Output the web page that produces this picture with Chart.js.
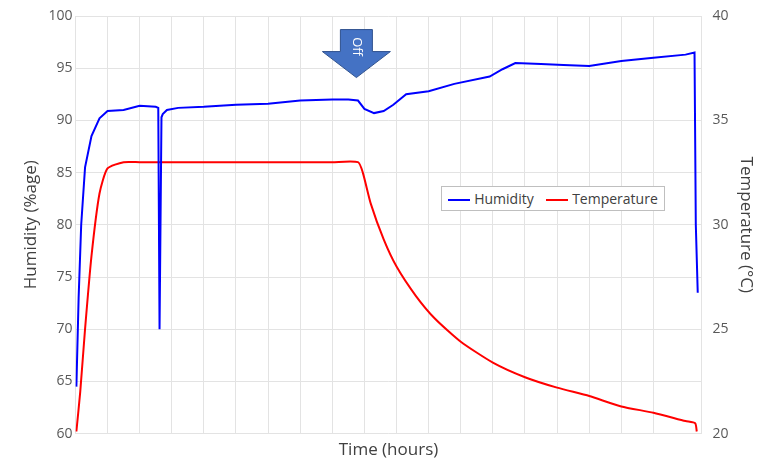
<!DOCTYPE html>
<html lang="en">
<head>
<meta charset="UTF-8">
<script src="https://cdn.jsdelivr.net/npm/chart.js"></script>
<style>
  body { margin: 0; background: #fff; }
  #wrap { position: relative; width: 768px; height: 471px; }
  #legend { position: absolute; left: 441px; top: 186px; width: 222px; height: 23px; border: 1px solid #bfbfbf; background: #fff;
            font: 14px "Open Sans", sans-serif; color: #404040; display: flex; align-items: center; justify-content: space-around; }
  #legend span i { display: inline-block; width: 22px; height: 2px; vertical-align: middle; margin-right: 4px; }
</style>
</head>
<body>
<div id="wrap">
  <canvas id="chart" width="768" height="471"></canvas>
  <div id="legend">
    <span><i style="background:#0000ff"></i>Humidity</span>
    <span><i style="background:#ff0000"></i>Temperature</span>
  </div>
</div>
<script>
// time in hours
var humTime = [0.03, 0.1, 0.18, 0.3, 0.5, 0.75, 1.0, 1.5, 2.0, 2.5, 2.58, 2.62, 2.68, 2.72, 2.85, 3.2, 4.0, 5.0, 6.0, 7.0, 8.0, 8.5, 8.8, 9.0, 9.3, 9.6, 9.9, 10.3, 11.0, 11.8, 12.9, 13.3, 13.7, 14.5, 15.2, 16.0, 17.0, 18.0, 19.0, 19.28, 19.32, 19.38];
var humidity = [64.5, 73, 80, 85.5, 88.5, 90.2, 90.9, 91.0, 91.4, 91.3, 91.2, 70, 90.3, 90.6, 91.0, 91.2, 91.3, 91.5, 91.6, 91.9, 92.0, 92.0, 91.9, 91.1, 90.7, 90.9, 91.5, 92.5, 92.8, 93.5, 94.2, 94.9, 95.5, 95.4, 95.3, 95.2, 95.7, 96.0, 96.3, 96.5, 80, 73.5];
var tempTime = [0.03, 0.15, 0.3, 0.5, 0.75, 1.0, 1.5, 2.0, 4.0, 6.0, 8.0, 8.8, 8.95, 9.2, 9.6, 10.0, 10.6, 11.2, 12.0, 13.0, 14.0, 15.0, 16.0, 17.0, 18.0, 19.0, 19.3, 19.35];
var temperature = [20.1, 22, 25, 28.5, 31.5, 32.7, 33.0, 33.0, 33.0, 33.0, 33.0, 33.0, 32.5, 31.0, 29.3, 28.0, 26.6, 25.5, 24.4, 23.4, 22.7, 22.2, 21.8, 21.3, 21.0, 20.6, 20.5, 20.1];
var offTime = 8.75;

function pts(xs, ys) { return xs.map(function (x, i) { return { x: x, y: ys[i] }; }); }

var arrowPlugin = {
  id: 'offArrow',
  afterDatasetsDraw: function (chart) {
    var c = chart.ctx, x = chart.scales.x.getPixelForValue(offTime), y0 = chart.scales.y.getPixelForValue(98.7);
    c.save();
    c.fillStyle = '#4472c4'; c.strokeStyle = '#2f528f'; c.lineWidth = 1;
    c.beginPath();
    c.moveTo(x - 16, y0); c.lineTo(x + 16, y0); c.lineTo(x + 16, y0 + 22); c.lineTo(x + 34, y0 + 22);
    c.lineTo(x, y0 + 48); c.lineTo(x - 34, y0 + 22); c.lineTo(x - 16, y0 + 22); c.closePath();
    c.fill(); c.stroke();
    c.translate(x, y0 + 17); c.rotate(Math.PI / 2);
    c.fillStyle = '#fff'; c.font = '13px "Open Sans", sans-serif'; c.textAlign = 'center'; c.textBaseline = 'middle';
    c.fillText('Off', 0, 0);
    c.restore();
  }
};

var tickFont = { family: 'Open Sans', size: 14 };
var titleFont = { family: 'Open Sans', size: 17 };

new Chart(document.getElementById('chart'), {
  type: 'line',
  data: {
    datasets: [
      { label: 'Humidity', data: pts(humTime, humidity), borderColor: '#0000ff', borderWidth: 2, pointRadius: 0, yAxisID: 'y', tension: 0 },
      { label: 'Temperature', data: pts(tempTime, temperature), borderColor: '#ff0000', borderWidth: 2, pointRadius: 0, yAxisID: 'y1', tension: 0.2 }
    ]
  },
  options: {
    responsive: false, animation: false,
    layout: { padding: { top: 16, right: 8, left: 17, bottom: 7 } },
    plugins: { legend: { display: false }, tooltip: { enabled: false } },
    scales: {
      x: { type: 'linear', min: 0, max: 19.5, ticks: { stepSize: 1, display: false },
           grid: { color: '#e3e3e3', drawTicks: false }, border: { display: false },
           title: { display: true, text: 'Time (hours)', color: '#404040', font: titleFont, padding: { top: 6 } } },
      y: { min: 60, max: 100, ticks: { stepSize: 5, color: '#595959', font: tickFont }, grid: { color: '#e3e3e3', drawTicks: false }, border: { display: false },
           title: { display: true, text: 'Humidity (%age)', color: '#404040', font: titleFont } },
      y1: { position: 'right', min: 20, max: 40, ticks: { stepSize: 5, color: '#595959', font: tickFont }, grid: { display: false }, border: { display: false },
            title: { display: true, text: 'Temperature (°C)', color: '#404040', font: titleFont } }
    }
  },
  plugins: [arrowPlugin]
});
</script>
</body>
</html>
